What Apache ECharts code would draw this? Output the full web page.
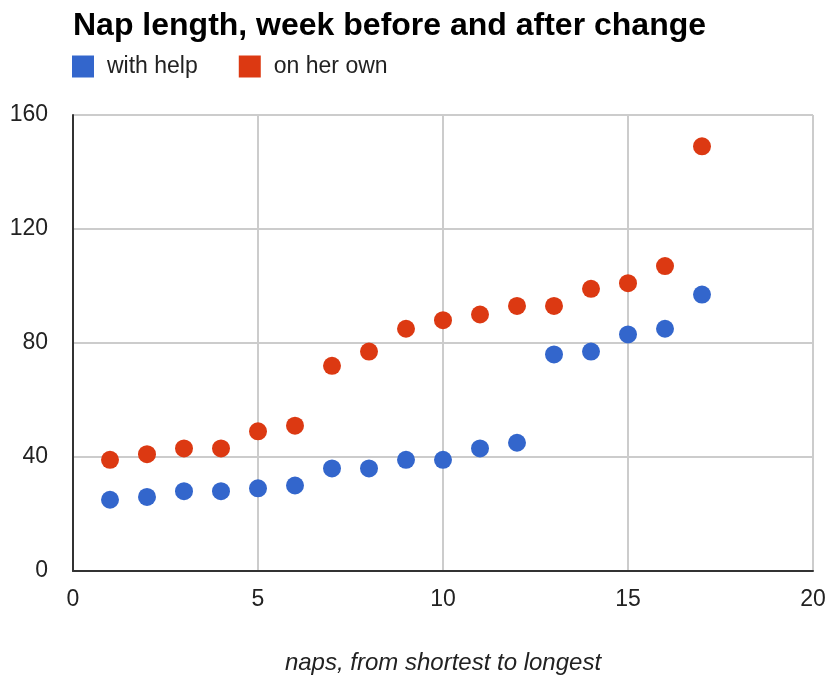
<!DOCTYPE html>
<html>
<head>
<meta charset="utf-8">
<script src="https://cdn.jsdelivr.net/npm/echarts@6/dist/echarts.min.js"></script>
<style>
  html, body { margin: 0; padding: 0; background: #fff; }
  #chart { width: 838px; height: 692px; }
</style>
</head>
<body>
<div id="chart"></div>
<script>
// nap index (x) and lengths (y)
const napIndex = [1, 2, 3, 4, 5, 6, 7, 8, 9, 10, 11, 12, 13, 14, 15, 16, 17]
const withHelp = [25, 26, 28, 28, 29, 30, 36, 36, 39, 39, 43, 45, 76, 77, 83, 85, 97]
const onHerOwn = [39, 41, 43, 43, 49, 51, 72, 77, 85, 88, 90, 93, 93, 99, 101, 107, 149]
const yTicks = [0, 40, 80, 120, 160]
const xTicks = [0, 5, 10, 15, 20]

const font = 'Arial, "Liberation Sans", sans-serif'
const chart = echarts.init(document.getElementById('chart'))

const pairs = (ys) => napIndex.map((x, i) => [x, ys[i]])

chart.setOption({
  animation: false,
  color: ['#3366cc', '#dc3912'],
  title: {
    text: 'Nap length, week before and after change',
    left: 68,
    top: 5,
    textStyle: { fontFamily: font, fontSize: 32, fontWeight: 'bold', color: '#000' }
  },
  legend: {
    left: 67,
    top: 50,
    itemWidth: 22,
    itemHeight: 22,
    itemGap: 41,
    icon: 'rect',
    textStyle: { fontFamily: font, fontSize: 23, color: '#222', padding: [3, 0, 0, 8] },
    data: ['with help', 'on her own']
  },
  grid: { left: 73, right: 25, top: 115, bottom: 121, containLabel: false },
  xAxis: {
    type: 'value',
    min: xTicks[0],
    max: xTicks[xTicks.length - 1],
    interval: 5,
    name: 'naps, from shortest to longest',
    nameLocation: 'middle',
    nameGap: 80,
    nameTextStyle: { fontFamily: font, fontSize: 24, fontStyle: 'italic', color: '#222' },
    axisLine: { show: true, onZero: false, lineStyle: { color: '#333', width: 2 } },
    axisTick: { show: false },
    axisLabel: { fontFamily: font, fontSize: 23, color: '#222', margin: 17 },
    splitLine: { show: true, lineStyle: { color: '#ccc', width: 2 } }
  },
  yAxis: {
    type: 'value',
    min: yTicks[0],
    max: yTicks[yTicks.length - 1],
    interval: 40,
    axisLine: { show: true, lineStyle: { color: '#333', width: 2 } },
    axisTick: { show: false },
    axisLabel: { fontFamily: font, fontSize: 23, color: '#222', margin: 25 },
    splitLine: { show: true, lineStyle: { color: '#ccc', width: 2 } }
  },
  series: [
    {
      name: 'with help',
      type: 'scatter',
      symbolSize: 18,
      itemStyle: { opacity: 1 },
      data: pairs(withHelp)
    },
    {
      name: 'on her own',
      type: 'scatter',
      symbolSize: 18,
      itemStyle: { opacity: 1 },
      data: pairs(onHerOwn)
    }
  ]
})
</script>
</body>
</html>
